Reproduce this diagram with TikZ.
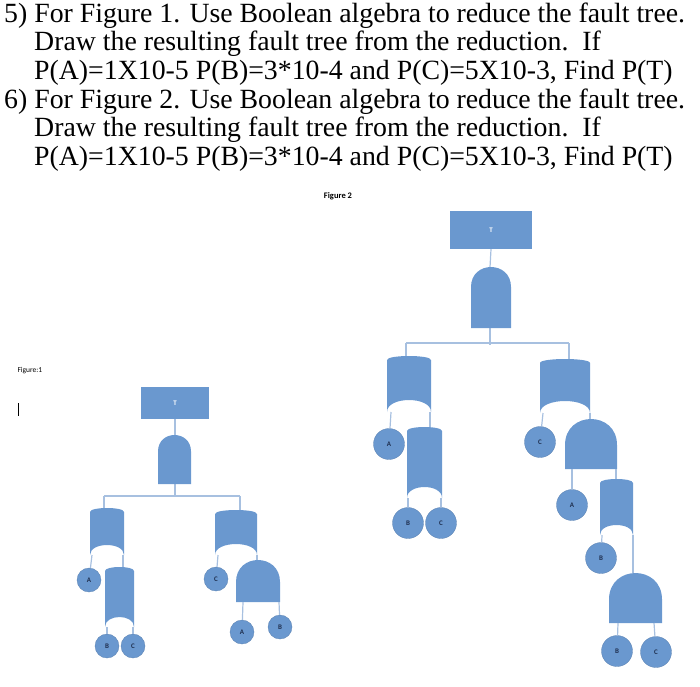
\documentclass[tikz,border=0pt]{standalone}
\usepackage{fontspec}
\setmainfont{Liberation Serif}
\newfontfamily\lab{Carlito}
\definecolor{gfill}{HTML}{6A98CF}
\definecolor{wirec}{HTML}{A7C0E0}
\definecolor{txtc}{HTML}{1F2F4F}
\newcommand\andg[4]{\pgfmathsetmacro\ym{#3+0.5*(#2-#1)}\pgfmathsetmacro\yc{#3-(0.5*(#2-#1))/3}\fill[gfill] (#1,#4) -- (#1,\ym) .. controls (#1,\yc) and (#2,\yc) .. (#2,\ym) -- (#2,#4) -- cycle;}
\newcommand\org[5]{\pgfmathsetmacro\yc{#4-4/3*#5}\pgfmathsetmacro\ya{#3+4}\pgfmathsetmacro\yb{#3-4/3}\fill[gfill] (#1,#4) -- (#1,\ya) .. controls (#1,\yb) and (#2,\yb) .. (#2,\ya) -- (#2,#4) .. controls (#2,\yc) and (#1,\yc) .. (#1,#4) -- cycle;}
\tikzset{
 wire/.style={draw=wirec,line width=1.2pt},
 ev/.style={circle,fill=gfill,draw=gfill!85!black,line width=0.3pt,inner sep=0pt,font=\lab\bfseries\fontsize{7}{8}\selectfont,text=txtc},
 evs/.style={ev,minimum size=24pt},
 evl/.style={ev,minimum size=31pt},
 top/.style={fill=gfill,inner sep=0pt,text=white,font=\lab\bfseries\fontsize{7}{8}\selectfont},
 qline/.style={anchor=west,font=\fontsize{27.8}{30}\selectfont,inner sep=0pt},
}
\begin{document}
\begin{tikzpicture}[x=1pt,y=-1pt]
\useasboundingbox (0,0) rectangle (700,686);
% text
\node[qline] (l1) at (4,16) {5) For Figure 1. Use Boolean algebra to reduce the fault tree.};
\node[qline] (l2) at (34,44) {Draw the resulting fault tree from the reduction.\ \ If};
\node[qline] (l3) at (34,73) {P(A)=1X10-5 P(B)=3*10-4 and P(C)=5X10-3, Find P(T)};
\node[qline] (l4) at (4,102) {6) For Figure 2. Use Boolean algebra to reduce the fault tree.};
\node[qline] (l5) at (34,130) {Draw the resulting fault tree from the reduction.\ \ If};
\node[qline] (l6) at (34,159) {P(A)=1X10-5 P(B)=3*10-4 and P(C)=5X10-3, Find P(T)};
\node[font=\lab\bfseries\fontsize{8.5}{9}\selectfont] (f2) at (338,196) {Figure 2};
\node[font=\lab\fontsize{7.5}{8}\selectfont,anchor=west] (f1) at (14,371) {Figure:1};
\draw[line width=0.6pt] (18,403) -- (18,416);
% ---------- Figure 1 ----------
\node[top,minimum width=68pt,minimum height=32pt] (T1) at (175,403) {T};
\coordinate (a1t) at (175,435); \coordinate (a1b) at (175,484);
\coordinate (bar1) at (175,496); \coordinate (bar1l) at (104,496); \coordinate (bar1r) at (240,496);
\draw[wire] (T1.south) -- (a1t);
\draw[wire] (a1b) -- (bar1);
\draw[wire] (bar1l) -- (bar1r);
\andg{158}{191}{435}{484}
\coordinate (o1t) at (104,508);
\draw[wire] (bar1l) -- (o1t);
\org{90}{124}{508}{555}{10}
\node[evs] (A1) at (89,580) {A};
\draw[wire] (92,555) -- (A1);
\coordinate (o2t) at (123,567);
\draw[wire] (123,555) -- (o2t);
\org{105}{134}{567}{627}{10}
\node[evs] (B1) at (107,646) {B};
\node[evs] (C1) at (133,646) {C};
\draw[wire] (107,627) -- (B1);
\draw[wire] (133,627) -- (C1);
\coordinate (o3t) at (240,510);
\draw[wire] (bar1r) -- (o3t);
\org{215}{257}{510}{555}{11}
\node[evs] (C1b) at (216,579) {C};
\draw[wire] (218,555) -- (C1b);
\coordinate (a2t) at (257,561);
\draw[wire] (257,555) -- (a2t);
\andg{236}{280}{560}{602}
\node[evs] (A1b) at (242,632) {A};
\node[evs] (B1b) at (280,627) {B};
\draw[wire] (243,602) -- (A1b);
\draw[wire] (279,602) -- (B1b);
% ---------- Figure 2 ----------
\node[top,minimum width=82pt,minimum height=38pt] (T2) at (491,230) {T};
\coordinate (g1t) at (490,267); \coordinate (g1b) at (490,328);
\coordinate (bar2) at (490,345); \coordinate (bar2l) at (406,343); \coordinate (bar2r) at (569,343);
\draw[wire] (T2.south) -- (g1t);
\draw[wire] (g1b) -- (bar2);
\draw[wire] (bar2l) -- (bar2r);
\andg{471}{511}{267}{328}
\coordinate (p1t) at (406,356);
\draw[wire] (bar2l) -- (p1t);
\org{387}{431}{356}{412}{12}
\node[evl] (A2) at (389,444) {A};
\draw[wire] (391,412) -- (A2);
\coordinate (p2t) at (430,427);
\draw[wire] (430,412) -- (p2t);
\org{407}{442}{427}{498}{11}
\node[evl] (B2) at (408,523) {B};
\node[evl] (C2) at (441,523) {C};
\draw[wire] (408,498) -- (B2);
\draw[wire] (441,498) -- (C2);
\coordinate (p3t) at (569,359);
\draw[wire] (bar2r) -- (p3t);
\org{540}{590}{359}{413}{12}
\node[evl] (C2b) at (540,442) {C};
\draw[wire] (543,413) -- (C2b);
\coordinate (q1t) at (590,419);
\draw[wire] (590,413) -- (q1t);
\andg{565}{617}{419}{469}
\node[evl] (A2b) at (572,505) {A};
\draw[wire] (572,469) -- (A2b);
\coordinate (p4t) at (616,479);
\draw[wire] (616,469) -- (p4t);
\org{600}{633}{479}{535}{10}
\node[evl] (B2b) at (601,558) {B};
\draw[wire] (602,535) -- (B2b);
\coordinate (q2t) at (633,573);
\draw[wire] (633,535) -- (q2t);
\andg{609}{662}{573}{623}
\node[evl] (B2c) at (617,651) {B};
\node[evl] (C2c) at (656,652) {C};
\draw[wire] (618,623) -- (B2c);
\draw[wire] (654,623) -- (C2c);
\end{tikzpicture}
\end{document}
